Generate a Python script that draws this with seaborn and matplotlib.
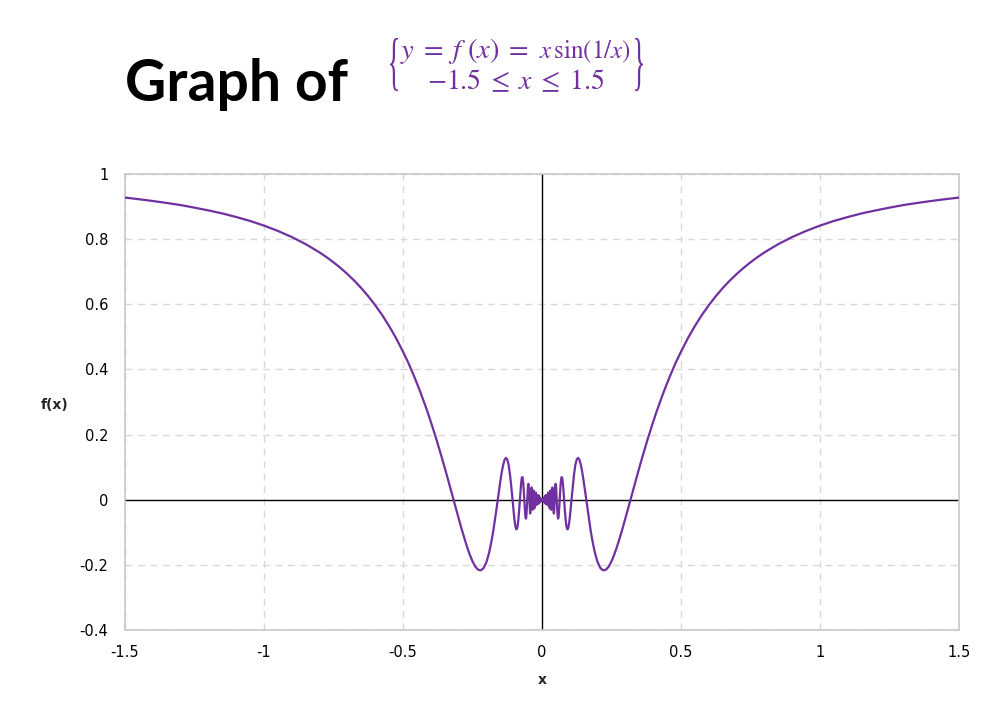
import numpy as np
import pandas as pd
import matplotlib
matplotlib.use("Agg")
import matplotlib.pyplot as plt
import seaborn as sns
from matplotlib.textpath import TextPath
from matplotlib.font_manager import FontProperties
from matplotlib.patches import PathPatch
from matplotlib.transforms import Affine2D

# values (right half; the curve is even, left half mirrors it)
x_half = [0.0, 0.001, 0.002, 0.0025, 0.003, 0.004, 0.005, 0.006, 0.007, 0.0075,
          0.008, 0.009, 0.01, 0.011, 0.012, 0.0125, 0.013, 0.014, 0.015, 0.016,
          0.017, 0.0175, 0.018, 0.019, 0.02, 0.021, 0.022, 0.0225, 0.023, 0.024,
          0.025, 0.026, 0.027, 0.0275, 0.028, 0.029, 0.03, 0.031, 0.032, 0.0325,
          0.033, 0.034, 0.035, 0.036, 0.037, 0.0375, 0.038, 0.039, 0.04, 0.041,
          0.042, 0.0425, 0.043, 0.044, 0.045, 0.046, 0.047, 0.0475, 0.048, 0.049,
          0.05, 0.051, 0.052, 0.0525, 0.053, 0.054, 0.055, 0.056, 0.057, 0.0575,
          0.058, 0.059, 0.06, 0.0625, 0.065, 0.0675, 0.07, 0.0725, 0.075, 0.0775,
          0.08, 0.0825, 0.085, 0.0875, 0.09, 0.0925, 0.095, 0.0975, 0.1, 0.105,
          0.11, 0.115, 0.12, 0.125, 0.13, 0.135, 0.14, 0.145, 0.15, 0.155,
          0.16, 0.165, 0.17, 0.175, 0.18, 0.19, 0.2, 0.21, 0.22, 0.23,
          0.24, 0.25, 0.26, 0.27, 0.28, 0.29, 0.3, 0.31, 0.32, 0.33,
          0.34, 0.35, 0.36, 0.37, 0.38, 0.39, 0.4, 0.41, 0.42, 0.43,
          0.44, 0.45, 0.46, 0.47, 0.48, 0.49, 0.5, 0.525, 0.55, 0.575,
          0.6, 0.625, 0.65, 0.675, 0.7, 0.725, 0.75, 0.775, 0.8, 0.85,
          0.9, 0.95, 1.0, 1.05, 1.1, 1.15, 1.2, 1.25, 1.3, 1.35,
          1.4, 1.45, 1.5]
y_half = [0.0, 0.0008, -0.0009, -0.0021, 0.0010, -0.0039, -0.0044, -0.0010, -0.0070, 0.0074,
          -0.0049, -0.0082, -0.0051, 0.0022, 0.0120, -0.0124, 0.0130, 0.0103, -0.0096, -0.0052,
          0.0130, 0.0098, -0.0151, 0.0133, -0.0052, -0.0100, 0.0219, 0.0100, -0.0111, -0.0177,
          0.0186, 0.0180, -0.0166, -0.0267, -0.0256, 0.0022, 0.0282, 0.0231, -0.0053, -0.0196,
          -0.0296, -0.0309, -0.0103, 0.0172, 0.0351, 0.0375, 0.0352, 0.0190, -0.0053, -0.0277,
          -0.0407, -0.0425, -0.0410, -0.0295, -0.0103, 0.0115, 0.0308, 0.0383, 0.0440, 0.0490,
          0.0457, 0.0351, 0.0194, 0.0104, 0.0010, -0.0175, -0.0341, -0.0469, -0.0550, -0.0571,
          -0.0580, -0.0558, -0.0491, -0.0180, 0.0206, 0.0526, 0.0692, 0.0682, 0.0520, 0.0256,
          -0.0053, -0.0355, -0.0611, -0.0794, -0.0894, -0.0909, -0.0847, -0.0720, -0.0544, -0.0104,
          0.0362, 0.0762, 0.1072, 0.1237, 0.1284, 0.1218, 0.1058, 0.0835, 0.0561, 0.0260,
          -0.0053, -0.0364, -0.0663, -0.0943, -0.1197, -0.1620, -0.1918, -0.2098, -0.2169, -0.2149,
          -0.2054, -0.1892, -0.1682, -0.1439, -0.1163, -0.0875, -0.0572, -0.0261, 0.0053, 0.0367,
          0.0678, 0.0983, 0.1284, 0.1571, 0.1857, 0.2128, 0.2394, 0.2652, 0.2895, 0.3130,
          0.3360, 0.3579, 0.3789, 0.3990, 0.4187, 0.4368, 0.4546, 0.4961, 0.5333, 0.5670,
          0.5972, 0.6247, 0.6497, 0.6723, 0.6929, 0.7117, 0.7289, 0.7447, 0.7592, 0.7847,
          0.8065, 0.8252, 0.8415, 0.8559, 0.8679, 0.8790, 0.8882, 0.8967, 0.9046, 0.9111,
          0.9171, 0.9226, 0.9276]

x_ticks = [-1.5, -1, -0.5, 0, 0.5, 1, 1.5]
x_tick_labels = ["-1.5", "-1", "-0.5", "0", "0.5", "1", "1.5"]
y_ticks = [-0.4, -0.2, 0, 0.2, 0.4, 0.6, 0.8, 1]
y_tick_labels = ["-0.4", "-0.2", "0", "0.2", "0.4", "0.6", "0.8", "1"]

df = pd.DataFrame({
    "x": [-v for v in x_half[:0:-1]] + x_half,
    "y": y_half[:0:-1] + y_half,
})

sns.set_style("white")
plt.rcParams["font.family"] = ["DejaVu Sans"]
plt.rcParams["mathtext.fontset"] = "stix"
plt.rcParams["text.color"] = "black"

purple = "#7030A0"
grid_col = "#d9d9d9"
frame_col = "#c8c8c8"

W, H = 1000, 724
def fx(px):
    return px / W
def fy(py):
    return 1 - py / H

fig = plt.figure(figsize=(10, 7.24), dpi=100)
ax = fig.add_axes([fx(125), fy(630), (959 - 125) / W, (630 - 174) / H])

# grid + zero axes
for xv in x_ticks:
    if xv != 0:
        ax.axvline(xv, color=grid_col, lw=1, ls=(0, (5, 4)), zorder=0)
for yv in y_ticks:
    if yv != 0:
        ax.axhline(yv, color=grid_col, lw=1, ls=(0, (5, 4)), zorder=0)
ax.axhline(0, color="black", lw=1, zorder=1)
ax.axvline(0, color="black", lw=1, zorder=1)

sns.lineplot(data=df, x="x", y="y", estimator=None, sort=False,
             color=purple, lw=1.6, ax=ax, zorder=3)

ax.set_xlim(-1.5, 1.5)
ax.set_ylim(-0.4, 1)
ax.set_xticks(x_ticks)
ax.set_xticklabels(x_tick_labels)
ax.set_yticks(y_ticks)
ax.set_yticklabels(y_tick_labels)
ax.tick_params(axis="both", length=0, labelsize=10.5, colors="black")
ax.tick_params(axis="x", pad=11)
ax.tick_params(axis="y", pad=12)

for s in ax.spines.values():
    s.set_visible(True)
    s.set_color(frame_col)
    s.set_linewidth(1.2)

ax.set_xlabel("x", fontsize=10, fontweight="bold", va="center")
ax.set_ylabel("f(x)", fontsize=10, fontweight="bold", rotation=0, va="center", ha="center")
ax.xaxis.set_label_coords(0.5, (630 - 680) / 456)
ax.yaxis.set_label_coords((55 - 125) / 834, (630 - 405) / 456)

# title
fig.text(fx(125), fy(101), "Graph of", fontsize=41, fontweight="bold", color="black",
         family=["Lato", "DejaVu Sans"], ha="left", va="baseline")
fig.text(fx(400), fy(58), r"$y\;=\;f\,\,(x)\;=$", fontsize=20.5, color=purple,
         ha="left", va="baseline")
fig.text(fx(539), fy(58), r"$x\,\sin(1/x)$", fontsize=18, color=purple,
         ha="left", va="baseline")
fig.text(fx(516), fy(89), r"$-1.5\;\leq\;x\;\leq\;1.5$", fontsize=20, color=purple,
         ha="center", va="baseline")

# thin tall braces: glyph outline stretched into the box the reference shows
def brace(ch, x0, x1, y0, y1):
    tp = TextPath((0, 0), ch, size=30, prop=FontProperties(family="Liberation Serif"))
    ext = tp.get_extents()
    tr = (Affine2D()
          .translate(-ext.x0, -ext.y0)
          .scale((x1 - x0) / ext.width, (y1 - y0) / ext.height)
          .translate(x0, H - y1))
    fig.add_artist(PathPatch(tr.transform_path(tp), facecolor=purple, edgecolor="none",
                             transform=None))

brace("{", 390, 398, 38, 91)
brace("}", 635, 643, 38, 91)

fig.savefig("out.png", dpi=100, facecolor="white")
